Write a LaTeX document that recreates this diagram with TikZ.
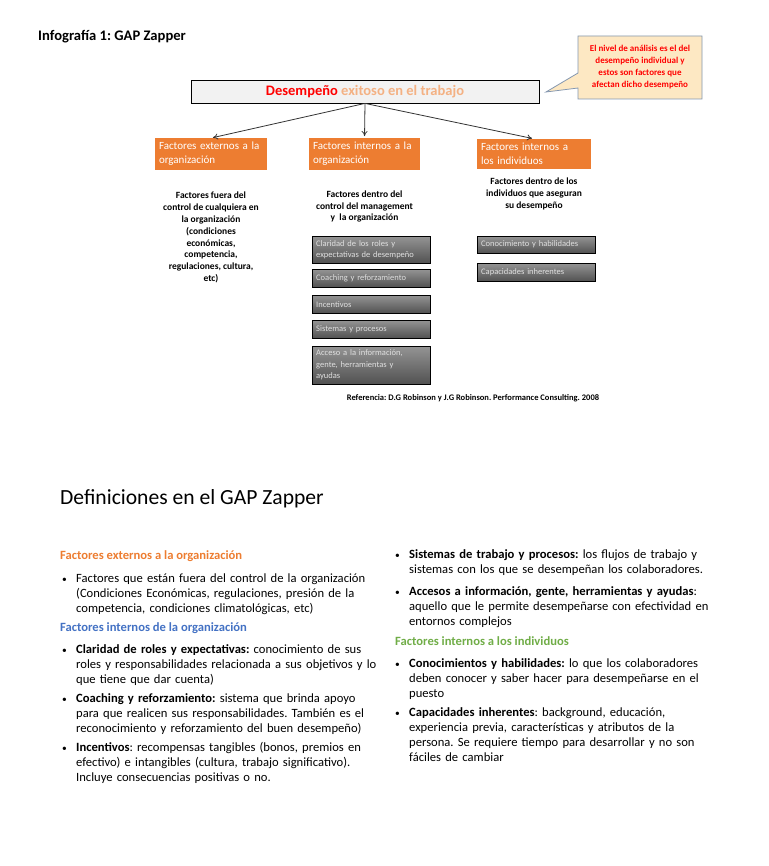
\documentclass[tikz,border=0pt]{standalone}
\usepackage{fontspec}
\setmainfont{Carlito}
\usepackage{tikz}
\usetikzlibrary{positioning, arrows.meta}
\definecolor{naranja}{HTML}{ED7D31}
\definecolor{naranjaclaro}{HTML}{F4B183}
\definecolor{azul}{HTML}{4472C4}
\definecolor{verde}{HTML}{70AD47}
\definecolor{rojo}{HTML}{FF0000}
\definecolor{crema}{HTML}{FDE8C3}
\definecolor{bordeazul}{HTML}{8497B0}
\frenchspacing

\begin{document}
\begin{tikzpicture}[
    x=1pt, y=-1pt,
    factor/.style={fill=naranja, text=white, minimum height=30pt, inner sep=4pt, align=left, font=\fontsize{11}{14}\selectfont},
    caja/.style={draw=black, top color=black!42, bottom color=black!68, text=white!88!black, anchor=north west, minimum width=118pt, text width=110pt, inner xsep=4pt, inner ysep=3pt, align=left, font=\fontsize{8.5}{11.5}\selectfont},
    nota/.style={align=center, inner sep=0pt, font=\bfseries\fontsize{9.5}{11.8}\selectfont},
    flecha/.style={draw=black!80, line width=0.8pt, shorten >=2pt, -{To[length=5pt, width=6pt]}},
    bul/.style={anchor=base west, inner sep=0pt, font=\fontsize{9.5}{15}\selectfont},
    defn/.style={anchor=base west, inner sep=0pt, text width=330pt, align=left, font=\fontsize{12.6}{15}\selectfont},
    subtit/.style={anchor=base west, inner sep=0pt, font=\bfseries\fontsize{12.6}{15}\selectfont}
]
\useasboundingbox[fill=white] (0,0) rectangle (768,866);

\node[anchor=west, inner sep=0pt, font=\bfseries\fontsize{14.6}{17}\selectfont] (titulo) at (38,37) {Infografía 1: GAP Zapper};

\node[draw=black, fill=black!5, line width=0.8pt, minimum width=348pt, minimum height=23pt, font=\bfseries\fontsize{14.5}{16}\selectfont] (meta) at (365,91.5)
    {\textcolor{rojo}{Desempeño} \textcolor{naranjaclaro}{exitoso en el trabajo}};
\draw[draw=bordeazul, fill=crema, line width=0.8pt] (578,36) -- (702,36) -- (702,99) -- (578,99) -- (578,88) -- (546,92) -- (578,73) -- cycle;
\node[align=center, text=rojo, font=\bfseries\fontsize{9}{12}\selectfont] (globo) at (640,67.5)
    {El nivel de análisis es el del\\desempeño individual y\\estos son factores que\\afectan dicho desempeño};

\node[factor, minimum width=112pt, text width=104pt] (ext) at (211,154) {Factores externos a la\\organización};
    \node[factor, minimum width=111pt, text width=103pt] (intorg) at (364.5,154) {Factores internos a la\\organización};
    \node[factor, minimum width=114pt, text width=106pt] (intind) at (534,154) {Factores internos a\\los individuos};

\draw[flecha] (meta.south) -- (ext.north);
    \draw[flecha] (meta.south) -- (intorg.north);
    \draw[flecha] (meta.south) -- (intind.north);

\node[nota] (notaext) at (211,237.5) {Factores fuera del\\control de cualquiera en\\la organización\\(condiciones\\económicas,\\competencia,\\regulaciones, cultura,\\etc)};
    \node[nota] (notaorg) at (364.5,206.5) {Factores dentro del\\control del management\\y\ \ la organización};
    \node[nota] (notaind) at (534,194) {Factores dentro de los\\individuos que aseguran\\su desempeño};

\node[caja, minimum height=27pt] (claridad) at (312,236) {Claridad de los roles y\\expectativas de desempeño};
    \node[caja, minimum height=18pt] (coaching) at (312,269) {Coaching y reforzamiento};
    \node[caja, minimum height=18pt] (incent) at (312,295) {Incentivos};
    \node[caja, minimum height=18pt] (sistemas) at (312,320) {Sistemas y procesos};
    \node[caja, minimum height=38pt] (acceso) at (312,346) {Acceso a la información,\\gente, herramientas y\\ayudas};

\node[caja, minimum height=17pt] (conoc) at (477,236) {Conocimiento y habilidades};
    \node[caja, minimum height=18pt] (capac) at (477,263) {Capacidades inherentes};

\node[font=\bfseries\fontsize{8.5}{10}\selectfont] (refe) at (473,398) {Referencia: D.G Robinson y J.G Robinson. Performance Consulting. 2008};

\node[anchor=west, inner sep=0pt, font=\fontsize{21.6}{26}\selectfont] (defs) at (60,499) {Definiciones en el GAP Zapper};

\node[subtit, text=naranja] (subext) at (60,559) {Factores externos a la organización};
    \node[bul] (b1) at (62,582) {\textbullet};
    \node[defn] (d1) at (76,582) {Factores que están fuera del control de la organización\\(Condiciones Económicas, regulaciones, presión de la\\competencia, condiciones climatológicas, etc)};

\node[subtit, text=azul] (subint) at (60,631) {Factores internos de la organización};
    \node[bul] (b2) at (62,653) {\textbullet};
    \node[defn] (d2) at (76,653) {\textbf{Claridad de roles y expectativas:} conocimiento de sus\\roles y responsabilidades relacionada a sus objetivos y lo\\que tiene que dar cuenta)};
    \node[bul] (b3) at (62,702) {\textbullet};
    \node[defn] (d3) at (76,702) {\textbf{Coaching y reforzamiento:} sistema que brinda apoyo\\para que realicen sus responsabilidades. También es el\\reconocimiento y reforzamiento del buen desempeño)};
    \node[bul] (b4) at (62,751) {\textbullet};
    \node[defn] (d4) at (76,751) {\textbf{Incentivos}: recompensas tangibles (bonos, premios en\\efectivo) e intangibles (cultura, trabajo significativo).\\Incluye consecuencias positivas o no.};

\node[bul] (b5) at (395,558) {\textbullet};
    \node[defn] (d5) at (409,558) {\textbf{Sistemas de trabajo y procesos:} los flujos de trabajo y\\sistemas con los que se desempeñan los colaboradores.};
    \node[bul] (b6) at (395,595) {\textbullet};
    \node[defn] (d6) at (409,595) {\textbf{Accesos a información, gente, herramientas y ayudas}:\\aquello que le permite desempeñarse con efectividad en\\entornos complejos};

\node[subtit, text=verde] (subind) at (395,645) {Factores internos a los individuos};
    \node[bul] (b7) at (395,667) {\textbullet};
    \node[defn] (d7) at (409,667) {\textbf{Conocimientos y habilidades:} lo que los colaboradores\\deben conocer y saber hacer para desempeñarse en el\\puesto};
    \node[bul] (b8) at (395,716) {\textbullet};
    \node[defn] (d8) at (409,716) {\textbf{Capacidades inherentes}: background, educación,\\experiencia previa, características y atributos de la\\persona. Se requiere tiempo para desarrollar y no son\\fáciles de cambiar};

\end{tikzpicture}
\end{document}
